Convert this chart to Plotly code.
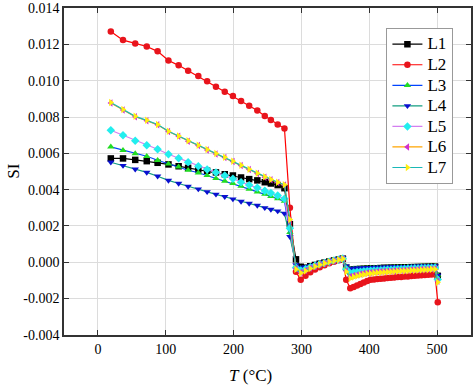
import plotly.graph_objects as go

# Temperature (°C)
T = [19, 37, 55, 72, 88, 104, 119, 133, 148, 161, 174, 187, 199, 211, 223, 235, 246, 255, 265, 275,
     283,
     292, 299, 306, 313, 320, 327, 334, 341, 348, 355, 361,
     366,
     372, 377, 382, 387, 392, 397, 402, 407, 412, 417, 422, 427, 432, 437, 442, 447, 452, 457, 462,
     467, 472, 477, 482, 487, 492, 497,
     501]

L1 = [0.00572, 0.00572, 0.00564, 0.00557, 0.00548, 0.00539, 0.00529, 0.00520, 0.00511, 0.00504,
      0.00495, 0.00485, 0.00478, 0.00467, 0.00458, 0.00451, 0.00441, 0.00434, 0.00425, 0.00408,
      0.00210,
      0.00016, -0.00025, -0.00030, -0.00022, -0.00015, -0.00008, -0.00002, 0.00004, 0.00010, 0.00015, 0.00020,
      -0.00030,
      -0.00042, -0.00040, -0.00038, -0.00037, -0.00036, -0.00035, -0.00034, -0.00033, -0.00033, -0.00032,
      -0.00031, -0.00031, -0.00030, -0.00030, -0.00029, -0.00029, -0.00028, -0.00028, -0.00027, -0.00027,
      -0.00026, -0.00026, -0.00025, -0.00025, -0.00024, -0.00024,
      -0.00075]

L2 = [0.01272, 0.01224, 0.01206, 0.01189, 0.01162, 0.01112, 0.01085, 0.01055, 0.01026, 0.00997,
      0.00967, 0.00940, 0.00916, 0.00888, 0.00863, 0.00836, 0.00806, 0.00784, 0.00759, 0.00737,
      0.00300,
      -0.00053, -0.00097, -0.00075, -0.00055, -0.00040, -0.00028, -0.00016, -0.00006, 0.00003, 0.00011, 0.00018,
      -0.00097,
      -0.00143, -0.00136, -0.00128, -0.00120, -0.00112, -0.00104, -0.00097, -0.00095, -0.00093, -0.00091,
      -0.00089, -0.00087, -0.00086, -0.00084, -0.00082, -0.00081, -0.00079, -0.00078, -0.00076, -0.00075,
      -0.00073, -0.00072, -0.00070, -0.00069, -0.00067, -0.00066,
      -0.00220]

L3 = [0.00636, 0.00617, 0.00599, 0.00584, 0.00562, 0.00542, 0.00526, 0.00507, 0.00493, 0.00478,
      0.00462, 0.00447, 0.00434, 0.00419, 0.00403, 0.00388, 0.00375, 0.00363, 0.00350, 0.00337,
      0.00165,
      -0.00020, -0.00033, -0.00030, -0.00022, -0.00015, -0.00008, -0.00002, 0.00004, 0.00010, 0.00015, 0.00021,
      -0.00024,
      -0.00038, -0.00036, -0.00035, -0.00034, -0.00033, -0.00033, -0.00032, -0.00031, -0.00031, -0.00030,
      -0.00030, -0.00029, -0.00029, -0.00028, -0.00028, -0.00027, -0.00027, -0.00026, -0.00026, -0.00025,
      -0.00025, -0.00024, -0.00024, -0.00023, -0.00023, -0.00022,
      -0.00070]

L4 = [0.00551, 0.00533, 0.00513, 0.00495, 0.00474, 0.00451, 0.00434, 0.00418, 0.00403, 0.00388,
      0.00374, 0.00361, 0.00348, 0.00335, 0.00324, 0.00313, 0.00300, 0.00291, 0.00282, 0.00269,
      0.00141,
      -0.00015, -0.00028, -0.00026, -0.00020, -0.00013, -0.00007, -0.00001, 0.00005, 0.00011, 0.00016, 0.00022,
      -0.00022,
      -0.00036, -0.00034, -0.00033, -0.00032, -0.00031, -0.00030, -0.00030, -0.00029, -0.00028, -0.00028,
      -0.00027, -0.00027, -0.00026, -0.00026, -0.00025, -0.00025, -0.00024, -0.00024, -0.00023, -0.00023,
      -0.00022, -0.00022, -0.00021, -0.00021, -0.00020, -0.00020,
      -0.00072]

L5 = [0.00727, 0.00700, 0.00669, 0.00645, 0.00623, 0.00595, 0.00573, 0.00551, 0.00529, 0.00511,
      0.00495, 0.00478, 0.00460, 0.00441, 0.00425, 0.00410, 0.00394, 0.00381, 0.00368, 0.00350,
      0.00187,
      -0.00030, -0.00045, -0.00038, -0.00028, -0.00019, -0.00011, -0.00004, 0.00003, 0.00009, 0.00014, 0.00020,
      -0.00038,
      -0.00060, -0.00057, -0.00054, -0.00052, -0.00050, -0.00048, -0.00047, -0.00046, -0.00045, -0.00044,
      -0.00043, -0.00042, -0.00041, -0.00040, -0.00039, -0.00038, -0.00037, -0.00036, -0.00036, -0.00035,
      -0.00034, -0.00033, -0.00033, -0.00032, -0.00031, -0.00030,
      -0.00095]

L6 = [0.00878, 0.00839, 0.00802, 0.00780, 0.00757, 0.00720, 0.00694, 0.00667, 0.00643, 0.00619,
      0.00597, 0.00577, 0.00555, 0.00533, 0.00511, 0.00489, 0.00469, 0.00454, 0.00439, 0.00425,
      0.00230,
      -0.00035, -0.00055, -0.00045, -0.00032, -0.00022, -0.00013, -0.00005, 0.00002, 0.00008, 0.00014, 0.00019,
      -0.00048,
      -0.00078, -0.00073, -0.00069, -0.00065, -0.00061, -0.00058, -0.00056, -0.00054, -0.00053, -0.00051,
      -0.00050, -0.00049, -0.00048, -0.00047, -0.00046, -0.00045, -0.00044, -0.00043, -0.00042, -0.00041,
      -0.00040, -0.00039, -0.00039, -0.00038, -0.00037, -0.00036,
      -0.00105]

L7 = [0.00880, 0.00841, 0.00804, 0.00782, 0.00759, 0.00722, 0.00696, 0.00669, 0.00645, 0.00621,
      0.00599, 0.00579, 0.00557, 0.00535, 0.00513, 0.00491, 0.00471, 0.00456, 0.00441, 0.00427,
      0.00236,
      -0.00038, -0.00060, -0.00048, -0.00034, -0.00023, -0.00014, -0.00006, 0.00002, 0.00008, 0.00013, 0.00019,
      -0.00052,
      -0.00088, -0.00082, -0.00076, -0.00071, -0.00067, -0.00064, -0.00062, -0.00060, -0.00058, -0.00057,
      -0.00055, -0.00054, -0.00052, -0.00051, -0.00050, -0.00049, -0.00048, -0.00047, -0.00046, -0.00045,
      -0.00044, -0.00043, -0.00042, -0.00041, -0.00039, -0.00038,
      -0.00110]

names = ["L1", "L2", "L3", "L4", "L5", "L6", "L7"]
series = [L1, L2, L3, L4, L5, L6, L7]
line_colors = ["#000000", "#ff0000", "#0044ff", "#129e80", "#d37ef0", "#ffa500", "#1ab8b8"]
marker_colors = ["#000000", "#e8141c", "#22dd22", "#0a10d0", "#22eeee", "#d030d0", "#ffee11"]
symbols = ["square", "circle", "triangle-up", "triangle-down", "diamond", "triangle-left", "triangle-right"]

x_tickvals = [0, 100, 200, 300, 400, 500]
x_ticktext = ["0", "100", "200", "300", "400", "500"]
y_tickvals = [-0.004, -0.002, 0.0, 0.002, 0.004, 0.006, 0.008, 0.010, 0.012, 0.014]
y_ticktext = ["-0.004", "-0.002", "0.000", "0.002", "0.004", "0.006", "0.008", "0.010", "0.012", "0.014"]

FONT = "Liberation Serif"

fig = go.Figure()
for nm, ys, lc, mc, sym in zip(names, series, line_colors, marker_colors, symbols):
    fig.add_trace(go.Scatter(
        x=T, y=ys, name="<span style='font-size:17px'>" + nm + "</span>", mode="lines+markers",
        line=dict(color=lc, width=1.2),
        marker=dict(symbol=sym, size=6.5, color=mc, line=dict(width=0)),
    ))

axis_common = dict(
    showline=True, linecolor="#333333", linewidth=1.5, mirror="ticks",
    ticks="inside", ticklen=5, tickwidth=1.3, tickcolor="#333333",
    showgrid=True, gridcolor="#dcdcdc", gridwidth=1, zeroline=False,
    tickfont=dict(family=FONT, size=14, color="black"),
)

W, H = 474, 386
ML, MR, MT, MB = 64, 1, 7, 51
PW, PH = W - ML - MR, H - MT - MB

fig.update_layout(
    width=W, height=H,
    margin=dict(l=ML, r=MR, t=MT, b=MB),
    paper_bgcolor="white", plot_bgcolor="white",
    font=dict(family=FONT, size=14, color="black"),
    xaxis=dict(range=[-50, 550], tickvals=x_tickvals, ticktext=x_ticktext, **axis_common),
    yaxis=dict(range=[-0.00401, 0.01401], tickvals=y_tickvals, ticktext=y_ticktext, **axis_common),
    showlegend=True,
    legend=dict(
        x=(388 - ML) / PW, y=1 - (27 - MT) / PH, xanchor="left", yanchor="top",
        bgcolor="white", bordercolor="#999999", borderwidth=1,
        font=dict(family=FONT, size=13.5, color="black"),
        itemwidth=30, tracegroupgap=0,
    ),
    annotations=[
        dict(text="SI", x=(13 - ML) / PW, xref="paper", y=0.5, yref="paper",
             xanchor="center", yanchor="middle",
             textangle=-90, showarrow=False, font=dict(family=FONT, size=17, color="black")),
        dict(text="<i>T</i> (°C)", x=(251 - ML) / PW, xref="paper", y=1 - (376 - MT) / PH, yref="paper",
             xanchor="center", yanchor="middle", showarrow=False,
             font=dict(family=FONT, size=17, color="black")),
    ],
)

fig.write_html("out.html", config={"displayModeBar": False},
               post_script="document.body.style.margin='0';document.body.style.overflow='hidden';")
